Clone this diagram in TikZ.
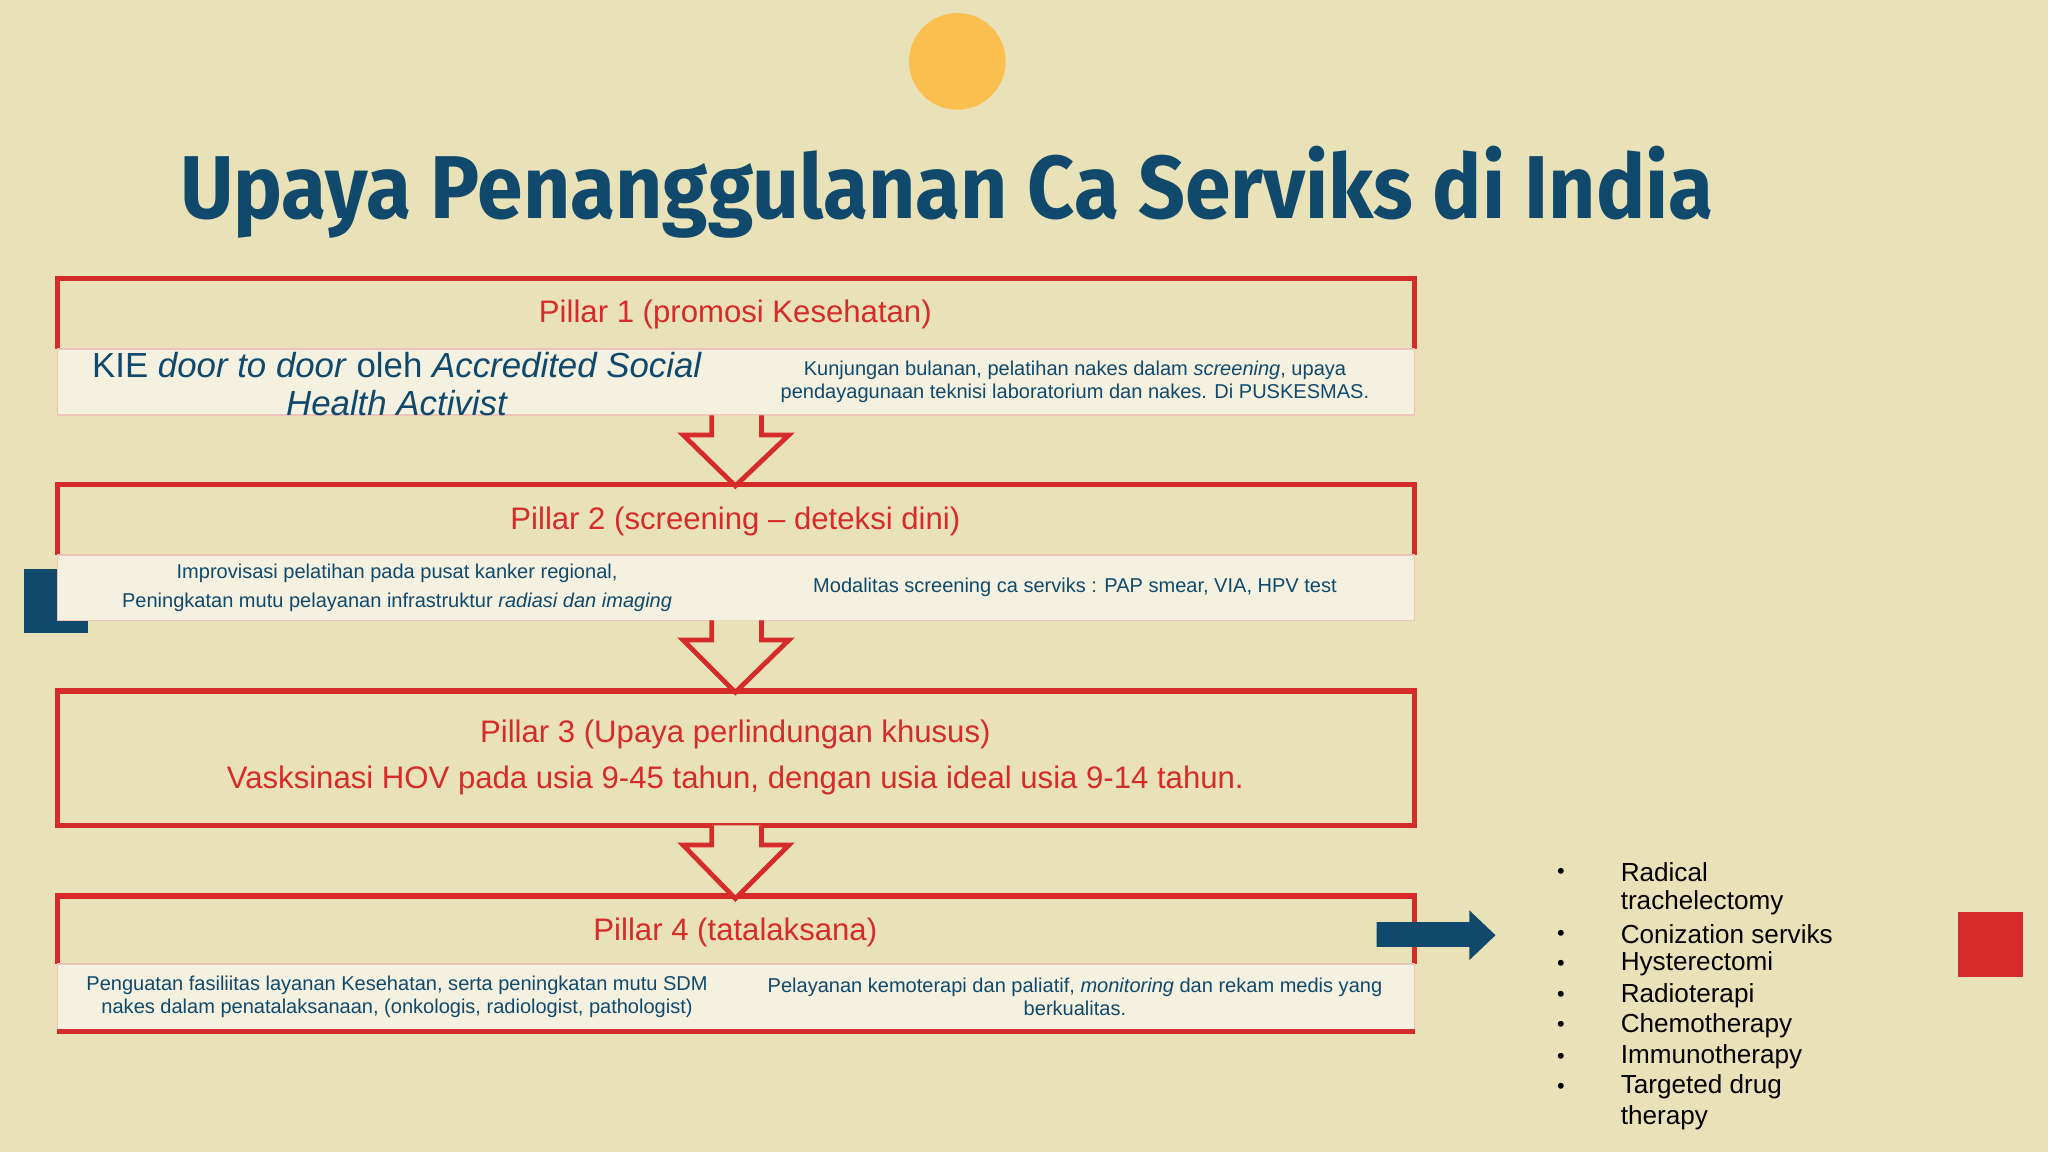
\documentclass[tikz,border=0pt]{standalone}
\usepackage{fontspec}
\setmainfont{Liberation Sans}
\newfontfamily\titlefont{Fira Sans}
\begin{document}
\begin{tikzpicture}[x=0.6pt,y=-0.6pt,
  redln/.style={draw=boxred,line width=2.4pt},
  band/.style={fill=bandfill,draw=pinkln,line width=0.8pt},
  head/.style={text=boxred,font=\fontsize{14.3}{16}\selectfont},
  small/.style={text=txtblue,font=\fontsize{9.2}{10.5}\selectfont,align=center},
  hollow/.style={draw=boxred,line width=2.2pt,fill=bg,line join=miter},
  itm/.style={anchor=west,font=\fontsize{12}{14}\selectfont,text=black}]
\definecolor{bg}{HTML}{E9E2B8}
\definecolor{boxred}{HTML}{D62B2B}
\definecolor{bandfill}{HTML}{F4F1E0}
\definecolor{pinkln}{HTML}{EFC4B8}
\definecolor{txtblue}{HTML}{10496B}
\definecolor{sun}{HTML}{FBBF4F}
\useasboundingbox (0,0) rectangle (1568,882);
\fill[bg] (0,0) rectangle (1568,882);
\fill[sun] (733,47) circle (37);
\node[text=txtblue,font=\titlefont\bfseries\fontsize{41}{46}\selectfont] (title) at (725,147) {\scalebox{0.92}[1]{Upaya Penanggulanan Ca Serviks di India}};
\fill[txtblue] (18,436) rectangle (67,485) coordinate (lb);
\fill[boxred] (1499,698) rectangle (1549,748) coordinate (rs);
% boxes
\foreach \t/\b/\m/\n in {213/318/267/1,371/475/425/2,686/790/738/4}{
  \draw[redln] (44,\m) -- (44,\t) -- (1083,\t) -- (1083,\m);
  \draw[band] (44,\m) rectangle (1083,\b);
}
\draw[boxred,line width=2.4pt] (44,790) -- (1083,790);
\draw[redln,fill=bg] (44,529) rectangle (1083,632);
% arrows
\foreach \a/\c in {318/372,475/530,632/688}{
  \draw[hollow] (545,\a) -- (545,\a+15) -- (523,\a+15) -- (563,\c) -- (604,\a+15) -- (583,\a+15) -- (583,\a);
}
% texts
\node[head] (p1) at (563,241) {Pillar 1 (promosi Kesehatan)};
\node[text=txtblue,font=\fontsize{16}{17.5}\selectfont,align=center] (kie) at (304,294) {KIE \textit{door to door} oleh \textit{Accredited Social}\\\textit{Health Activist}};
\node[small] (k1) at (823,292) {Kunjungan bulanan, pelatihan nakes dalam \textit{screening}, upaya\\pendayagunaan teknisi laboratorium dan nakes. Di PUSKESMAS.};
\node[head] (p2) at (563,399) {Pillar 2 (screening -- deteksi dini)};
\node[small,font=\fontsize{9.2}{13}\selectfont] (k2) at (304,450) {Improvisasi pelatihan pada pusat kanker regional,\\Peningkatan mutu pelayanan infrastruktur \textit{radiasi dan imaging}};
\node[small] (k3) at (823,450) {Modalitas screening ca serviks : PAP smear, VIA, HPV test};
\node[head,align=center,font=\fontsize{14.3}{21}\selectfont] (p3) at (563,580) {Pillar 3 (Upaya perlindungan khusus)\\Vasksinasi HOV pada usia 9-45 tahun, dengan usia ideal usia 9-14 tahun.};
\node[head] (p4) at (563,714) {Pillar 4 (tatalaksana)};
\node[small] (k4) at (304,763) {Penguatan fasiliitas layanan Kesehatan, serta peningkatan mutu SDM\\nakes dalam penatalaksanaan, (onkologis, radiologist, pathologist)};
\node[small] (k5) at (823,763) {Pelayanan kemoterapi dan paliatif, \textit{monitoring} dan rekam medis yang\\berkualitas.};
% blue arrow
\coordinate (ba) at (1054,706);
\fill[txtblue] (ba) -- (1125,706) -- (1125,697) -- (1145,716) -- (1125,735) -- (1125,725) -- (1054,725) -- cycle;
% list
\foreach \y/\s in {668/Radical,691/trachelectomy,715/Conization serviks,738/Hysterectomi,762/Radioterapi,785/Chemotherapy,809/Immunotherapy,832/Targeted drug,856/therapy}{
  \node[itm] at (1235,\y) {\s};
}
\foreach \y in {668,715,738,762,785,809,832}{
  \node[font=\fontsize{10}{12}\selectfont] at (1195,\y+1) {•};
}
\end{tikzpicture}
\end{document}
